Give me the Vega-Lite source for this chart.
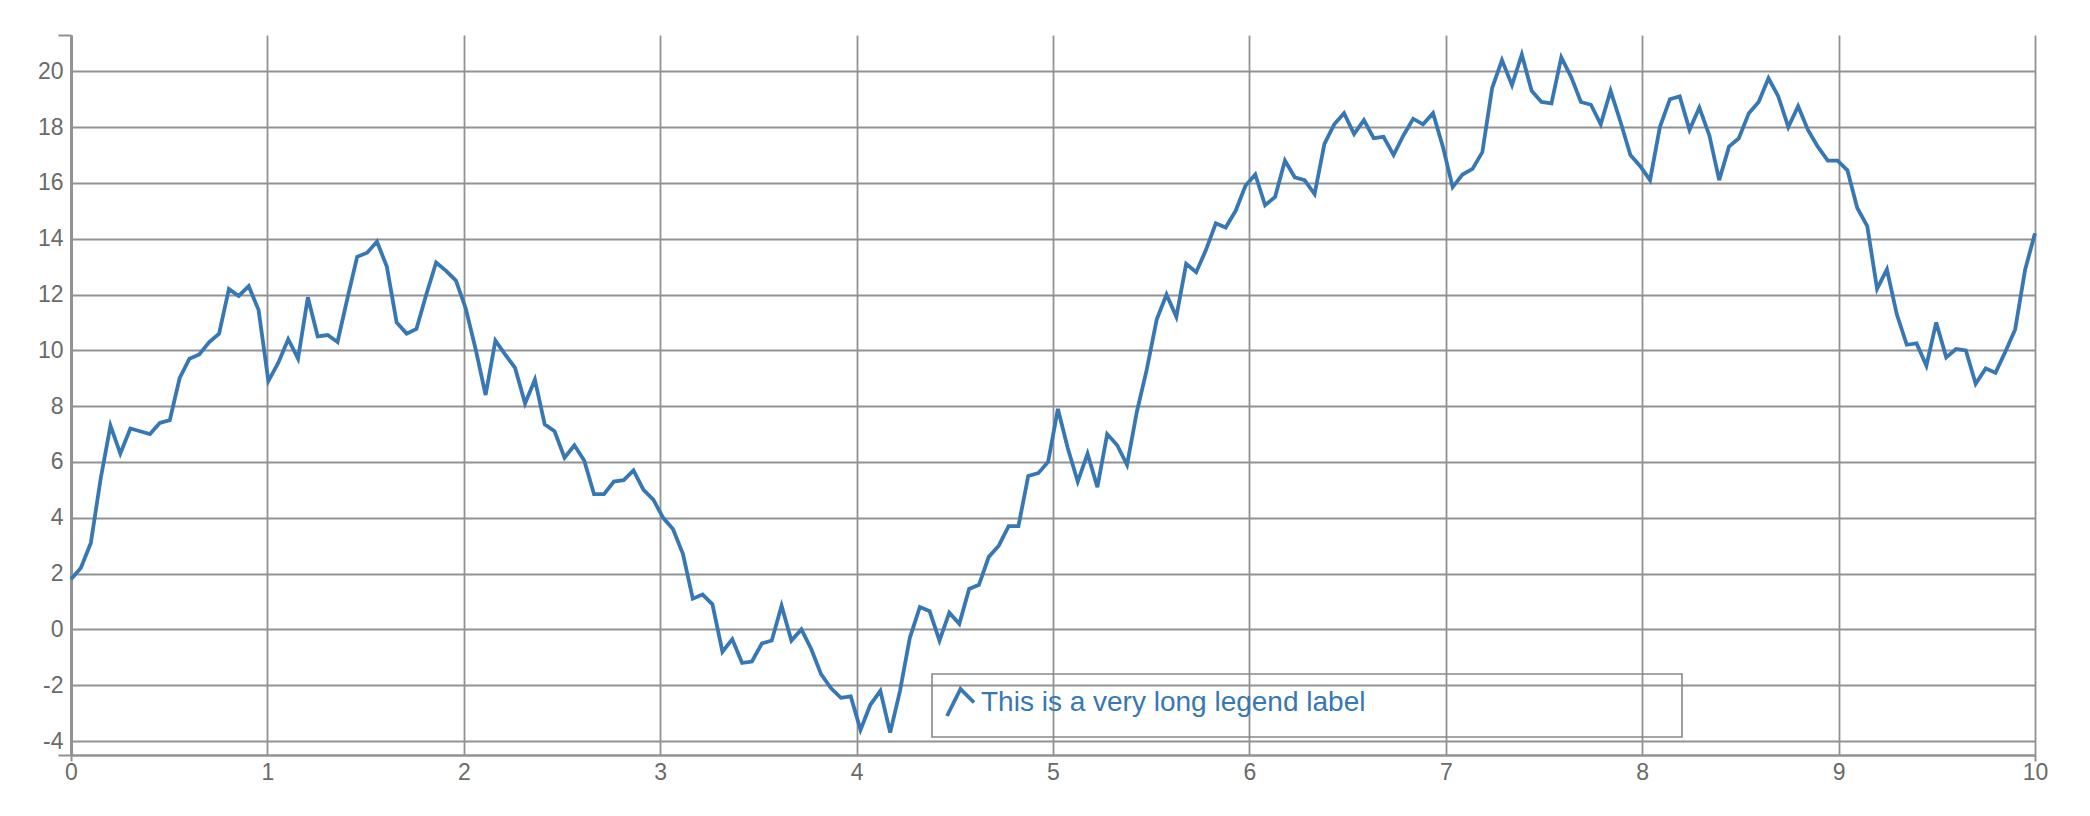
{
  "$schema": "https://vega.github.io/schema/vega-lite/v6.json",
  "description": "Noisy sine-like line with a long legend label",
  "width": 1964,
  "height": 720,
  "autosize": {"type": "none"},
  "padding": {"left": 71, "top": 35, "right": 55, "bottom": 61},
  "background": "white",
  "config": {
    "font": "Liberation Sans",
    "view": {"stroke": null},
    "legend": {"strokeWidth": 1.6}
  },
  "data": {
    "values": [
      {"x": 0, "y": 1.8}, {"x": 0.05, "y": 2.2}, {"x": 0.101, "y": 3.1}, {"x": 0.151, "y": 5.4},
      {"x": 0.201, "y": 7.3}, {"x": 0.251, "y": 6.3}, {"x": 0.302, "y": 7.2}, {"x": 0.352, "y": 7.1},
      {"x": 0.402, "y": 7.0}, {"x": 0.452, "y": 7.4}, {"x": 0.503, "y": 7.5}, {"x": 0.553, "y": 9.0},
      {"x": 0.603, "y": 9.7}, {"x": 0.653, "y": 9.85}, {"x": 0.704, "y": 10.3}, {"x": 0.754, "y": 10.6},
      {"x": 0.804, "y": 12.2}, {"x": 0.854, "y": 11.95}, {"x": 0.905, "y": 12.3}, {"x": 0.955, "y": 11.45},
      {"x": 1.005, "y": 8.9}, {"x": 1.055, "y": 9.55}, {"x": 1.106, "y": 10.4}, {"x": 1.156, "y": 9.7},
      {"x": 1.206, "y": 11.9}, {"x": 1.256, "y": 10.5}, {"x": 1.307, "y": 10.55}, {"x": 1.357, "y": 10.3},
      {"x": 1.407, "y": 11.85}, {"x": 1.457, "y": 13.35}, {"x": 1.508, "y": 13.5}, {"x": 1.558, "y": 13.9},
      {"x": 1.608, "y": 13.0}, {"x": 1.658, "y": 11.0}, {"x": 1.709, "y": 10.6}, {"x": 1.759, "y": 10.77},
      {"x": 1.809, "y": 12.0}, {"x": 1.859, "y": 13.15}, {"x": 1.91, "y": 12.85}, {"x": 1.96, "y": 12.5},
      {"x": 2.01, "y": 11.5}, {"x": 2.06, "y": 10.05}, {"x": 2.111, "y": 8.4}, {"x": 2.161, "y": 10.35},
      {"x": 2.211, "y": 9.85}, {"x": 2.261, "y": 9.37}, {"x": 2.312, "y": 8.1}, {"x": 2.362, "y": 8.95},
      {"x": 2.412, "y": 7.35}, {"x": 2.462, "y": 7.1}, {"x": 2.513, "y": 6.15}, {"x": 2.563, "y": 6.6},
      {"x": 2.613, "y": 6.05}, {"x": 2.663, "y": 4.85}, {"x": 2.714, "y": 4.85}, {"x": 2.764, "y": 5.3},
      {"x": 2.814, "y": 5.35}, {"x": 2.864, "y": 5.7}, {"x": 2.915, "y": 5.0}, {"x": 2.965, "y": 4.65},
      {"x": 3.015, "y": 4.0}, {"x": 3.065, "y": 3.6}, {"x": 3.116, "y": 2.7}, {"x": 3.166, "y": 1.1},
      {"x": 3.216, "y": 1.25}, {"x": 3.266, "y": 0.9}, {"x": 3.317, "y": -0.8}, {"x": 3.367, "y": -0.35},
      {"x": 3.417, "y": -1.2}, {"x": 3.467, "y": -1.15}, {"x": 3.518, "y": -0.5}, {"x": 3.568, "y": -0.4},
      {"x": 3.618, "y": 0.85}, {"x": 3.668, "y": -0.4}, {"x": 3.719, "y": 0.0}, {"x": 3.769, "y": -0.7},
      {"x": 3.819, "y": -1.6}, {"x": 3.869, "y": -2.1}, {"x": 3.92, "y": -2.45}, {"x": 3.97, "y": -2.4},
      {"x": 4.02, "y": -3.6}, {"x": 4.07, "y": -2.7}, {"x": 4.121, "y": -2.2}, {"x": 4.171, "y": -3.7},
      {"x": 4.221, "y": -2.2}, {"x": 4.271, "y": -0.3}, {"x": 4.322, "y": 0.8}, {"x": 4.372, "y": 0.65},
      {"x": 4.422, "y": -0.4}, {"x": 4.472, "y": 0.6}, {"x": 4.523, "y": 0.2}, {"x": 4.573, "y": 1.45},
      {"x": 4.623, "y": 1.6}, {"x": 4.673, "y": 2.6}, {"x": 4.724, "y": 3.0}, {"x": 4.774, "y": 3.7},
      {"x": 4.824, "y": 3.7}, {"x": 4.874, "y": 5.5}, {"x": 4.925, "y": 5.6}, {"x": 4.975, "y": 6.0},
      {"x": 5.025, "y": 7.9}, {"x": 5.075, "y": 6.5}, {"x": 5.126, "y": 5.3}, {"x": 5.176, "y": 6.3},
      {"x": 5.226, "y": 5.1}, {"x": 5.276, "y": 7.0}, {"x": 5.327, "y": 6.6}, {"x": 5.377, "y": 5.9},
      {"x": 5.427, "y": 7.8}, {"x": 5.477, "y": 9.3}, {"x": 5.528, "y": 11.1}, {"x": 5.578, "y": 12.0},
      {"x": 5.628, "y": 11.2}, {"x": 5.678, "y": 13.1}, {"x": 5.729, "y": 12.8}, {"x": 5.779, "y": 13.6},
      {"x": 5.829, "y": 14.55}, {"x": 5.879, "y": 14.4}, {"x": 5.93, "y": 15.0}, {"x": 5.98, "y": 15.9},
      {"x": 6.03, "y": 16.3}, {"x": 6.08, "y": 15.2}, {"x": 6.131, "y": 15.5}, {"x": 6.181, "y": 16.8},
      {"x": 6.231, "y": 16.2}, {"x": 6.281, "y": 16.1}, {"x": 6.332, "y": 15.6}, {"x": 6.382, "y": 17.4},
      {"x": 6.432, "y": 18.1}, {"x": 6.482, "y": 18.5}, {"x": 6.533, "y": 17.75}, {"x": 6.583, "y": 18.25},
      {"x": 6.633, "y": 17.6}, {"x": 6.683, "y": 17.65}, {"x": 6.734, "y": 17.0}, {"x": 6.784, "y": 17.7},
      {"x": 6.834, "y": 18.3}, {"x": 6.884, "y": 18.1}, {"x": 6.935, "y": 18.5}, {"x": 6.985, "y": 17.3},
      {"x": 7.035, "y": 15.85}, {"x": 7.085, "y": 16.3}, {"x": 7.136, "y": 16.5}, {"x": 7.186, "y": 17.1},
      {"x": 7.236, "y": 19.4}, {"x": 7.286, "y": 20.4}, {"x": 7.337, "y": 19.5}, {"x": 7.387, "y": 20.6},
      {"x": 7.437, "y": 19.3}, {"x": 7.487, "y": 18.9}, {"x": 7.538, "y": 18.85}, {"x": 7.588, "y": 20.5},
      {"x": 7.638, "y": 19.8}, {"x": 7.688, "y": 18.9}, {"x": 7.739, "y": 18.8}, {"x": 7.789, "y": 18.1},
      {"x": 7.839, "y": 19.3}, {"x": 7.889, "y": 18.2}, {"x": 7.94, "y": 17.0}, {"x": 7.99, "y": 16.6},
      {"x": 8.04, "y": 16.1}, {"x": 8.09, "y": 18.0}, {"x": 8.141, "y": 19.0}, {"x": 8.191, "y": 19.1},
      {"x": 8.241, "y": 17.9}, {"x": 8.291, "y": 18.7}, {"x": 8.342, "y": 17.7}, {"x": 8.392, "y": 16.1},
      {"x": 8.442, "y": 17.3}, {"x": 8.492, "y": 17.6}, {"x": 8.543, "y": 18.5}, {"x": 8.593, "y": 18.9},
      {"x": 8.643, "y": 19.75}, {"x": 8.693, "y": 19.1}, {"x": 8.744, "y": 18.0}, {"x": 8.794, "y": 18.75},
      {"x": 8.844, "y": 17.9}, {"x": 8.894, "y": 17.3}, {"x": 8.945, "y": 16.8}, {"x": 8.995, "y": 16.8},
      {"x": 9.045, "y": 16.45}, {"x": 9.095, "y": 15.1}, {"x": 9.146, "y": 14.45}, {"x": 9.196, "y": 12.2},
      {"x": 9.246, "y": 12.9}, {"x": 9.296, "y": 11.3}, {"x": 9.347, "y": 10.2}, {"x": 9.397, "y": 10.25},
      {"x": 9.447, "y": 9.45}, {"x": 9.497, "y": 11.0}, {"x": 9.548, "y": 9.75}, {"x": 9.598, "y": 10.05},
      {"x": 9.648, "y": 10.0}, {"x": 9.698, "y": 8.8}, {"x": 9.749, "y": 9.35}, {"x": 9.799, "y": 9.2},
      {"x": 9.849, "y": 9.95}, {"x": 9.899, "y": 10.75}, {"x": 9.95, "y": 12.9}, {"x": 10, "y": 14.2}
    ]
  },
  "mark": {"type": "line", "strokeWidth": 3.8},
  "encoding": {
    "x": {
      "field": "x",
      "type": "quantitative",
      "scale": {"domain": [0, 10], "nice": false, "zero": false},
      "axis": {
        "title": null,
        "values": [0, 1, 2, 3, 4, 5, 6, 7, 8, 9, 10],
        "grid": true,
        "gridColor": "#929292",
        "gridWidth": 1.8,
        "domainColor": "#929292",
        "domainWidth": 2,
        "tickSize": 6,
        "tickWidth": 2,
        "tickColor": {"condition": {"test": "datum.value == 0 || datum.value == 10", "value": "#929292"}, "value": "transparent"},
        "labelPadding": 0,
        "labelFlush": false,
        "labelOverlap": false,
        "labelFontSize": 23,
        "labelColor": "#6a6a6a"
      }
    },
    "y": {
      "field": "y",
      "type": "quantitative",
      "scale": {"domain": [-4.5, 21.3], "nice": false, "zero": false},
      "axis": {
        "title": null,
        "values": [-4.5, -4, -2, 0, 2, 4, 6, 8, 10, 12, 14, 16, 18, 20, 21.3],
        "grid": true,
        "gridColor": {"condition": {"test": "datum.value > 21", "value": "transparent"}, "value": "#929292"},
        "gridWidth": 1.8,
        "domainColor": "#929292",
        "domainWidth": 3,
        "tickSize": 13,
        "tickWidth": 2,
        "tickColor": {"condition": {"test": "datum.value > 21 || datum.value < -4.2", "value": "#929292"}, "value": "transparent"},
        "labelExpr": "datum.value % 2 == 0 ? '' + datum.value : ''",
        "labelPadding": -5,
        "labelOverlap": false,
        "labelFontSize": 23,
        "labelColor": "#6a6a6a"
      }
    },
    "color": {
      "datum": "This is a very long legend label",
      "type": "nominal",
      "scale": {"range": ["#3777b3"]},
      "legend": {
        "title": null,
        "orient": "none",
        "legendX": 861,
        "legendY": 639,
        "padding": 13,
        "strokeColor": "#888888",
        "symbolType": "M-1,1L0,-1L1,0",
        "symbolSize": 729,
        "symbolStrokeWidth": 3.8,
        "symbolFillColor": "transparent",
        "labelOffset": 5,
        "labelFontSize": 28,
        "labelColor": "#3777b3",
        "labelLimit": 0,
        "labelExpr": "datum.label + '\u00a0\u00a0\u00a0\u00a0\u00a0\u00a0\u00a0\u00a0\u00a0\u00a0\u00a0\u00a0\u00a0\u00a0\u00a0\u00a0\u00a0\u00a0\u00a0\u00a0\u00a0\u00a0\u00a0\u00a0\u00a0\u00a0\u00a0\u00a0\u00a0\u00a0\u00a0\u00a0\u00a0\u00a0\u00a0\u00a0\u00a0\u00a0\u00a0\u200b'"
      }
    }
  }
}
